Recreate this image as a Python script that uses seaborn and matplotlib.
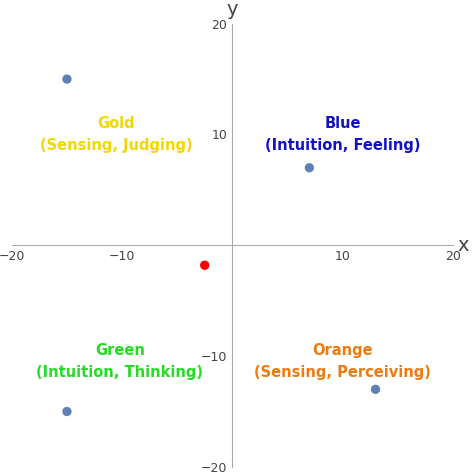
import matplotlib
matplotlib.use("Agg")
import matplotlib.pyplot as plt
import seaborn as sns

# data points
pts_x = [-15, 7, 13, -15]
pts_y = [15, 7, -13, -15]
red_x = [-2.5]
red_y = [-1.8]

quad_names = ["Gold", "Blue", "Green", "Orange"]
quad_traits = ["(Sensing, Judging)", "(Intuition, Feeling)",
               "(Intuition, Thinking)", "(Sensing, Perceiving)"]
quad_x = [-10.5, 10, -10.2, 10]
quad_y = [10, 10, -10.5, -10.5]
quad_colors = ["#f2d700", "#1212c4", "#22dd22", "#f07a10"]

sns.set_style("white")
fig = plt.figure(figsize=(4.74, 4.74), dpi=100)
ax = fig.add_axes([0.025, 0.015, 0.93, 0.935])

sns.scatterplot(x=pts_x, y=pts_y, color="#5e81b5", s=45, edgecolor="none", ax=ax)
sns.scatterplot(x=red_x, y=red_y, color="#ff0000", s=45, edgecolor="none", ax=ax)

for name, trait, x, y, c in zip(quad_names, quad_traits, quad_x, quad_y, quad_colors):
    ax.text(x, y + 1.0, name, color=c, ha="center", va="center", fontsize=10.5, fontweight="bold")
    ax.text(x, y - 1.0, trait, color=c, ha="center", va="center", fontsize=10.5, fontweight="bold")

ax.set_xlim(-20, 20)
ax.set_ylim(-20, 20)
for s in ["left", "bottom"]:
    ax.spines[s].set_position("zero")
    ax.spines[s].set_color("#aaaaaa")
    ax.spines[s].set_linewidth(0.8)
for s in ["right", "top"]:
    ax.spines[s].set_visible(False)
ax.set_xticks([-20, -10, 10, 20])
ax.set_yticks([-20, -10, 10, 20])
ax.tick_params(colors="#aaaaaa", labelcolor="#444444", labelsize=9, direction="in", length=4)
ax.set_xticks(range(-20, 21, 2), minor=True)
ax.set_yticks(range(-20, 21, 2), minor=True)
ax.tick_params(which="minor", colors="#aaaaaa", direction="in", length=2)
ax.text(20.4, 0, "x", fontsize=14, color="#444444", va="center", ha="left", clip_on=False)
ax.text(0, 20.4, "y", fontsize=14, color="#444444", va="bottom", ha="center", clip_on=False)

fig.savefig("out.png", dpi=100)
